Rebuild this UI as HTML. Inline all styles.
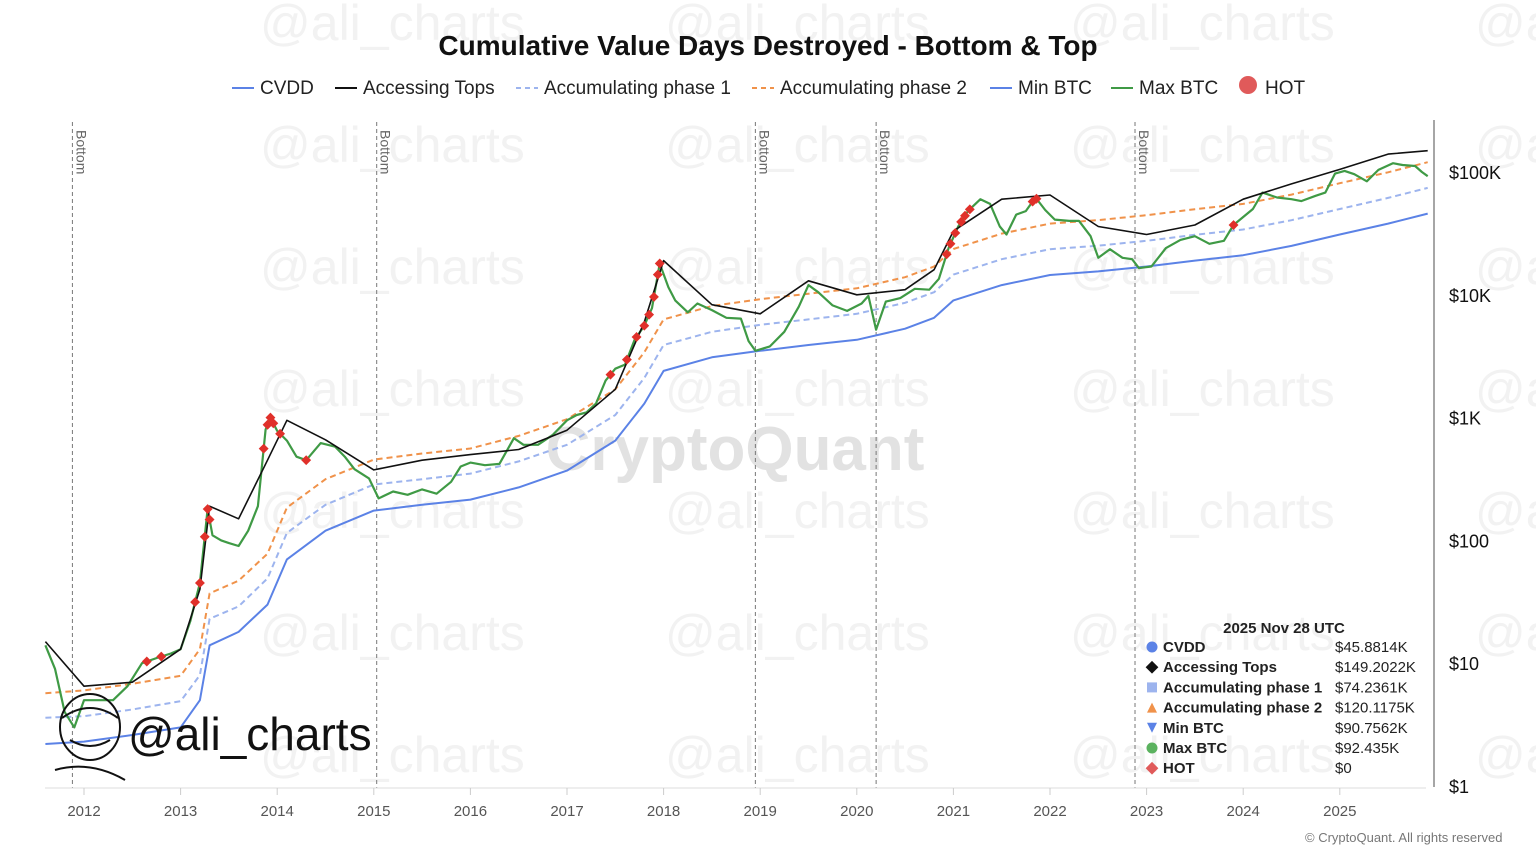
<!DOCTYPE html>
<html><head><meta charset="utf-8">
<style>
body{margin:0;width:1536px;height:864px;background:#fff;overflow:hidden;font-family:"Liberation Sans",Arial,sans-serif}
svg{position:absolute;left:0;top:0}
</style></head>
<body>
<svg id="chart" width="1536" height="864">
<g id="wm"></g>
<text x="735" y="470" font-size="62" font-weight="bold" fill="#cfcfcf" opacity="0.6" text-anchor="middle">CryptoQuant</text>
<text x="768" y="55" font-size="28" font-weight="bold" fill="#111" text-anchor="middle">Cumulative Value Days Destroyed - Bottom &amp; Top</text>
<g id="legend" font-size="19" fill="#222"></g>
<g id="grid"></g>
<g id="plot"></g>
<g id="axes"></g>
<text x="128" y="750" font-size="46" fill="#111">@ali_charts</text>
<g fill="none" stroke="#111" stroke-width="2">
<ellipse cx="90" cy="727" rx="30" ry="33"/><path d="M62 718 q28 -20 56 0 M70 740 q20 12 40 0 M55 770 q35 -10 70 10"/></g>
<g id="tip" font-size="15" font-weight="bold" fill="#222"></g>
<text x="1305" y="842" font-size="13" fill="#777">© CryptoQuant. All rights reserved</text>
</svg>
<script>
const NS='http://www.w3.org/2000/svg';
function el(tag,attrs,parent,text){const e=document.createElementNS(NS,tag);for(const k in attrs)e.setAttribute(k,attrs[k]);if(text!==undefined)e.textContent=text;parent.appendChild(e);return e;}
const xTicks=[2012,2013,2014,2015,2016,2017,2018,2019,2020,2021,2022,2023,2024,2025];
const yTicks=[1,10,100,1000,10000,100000];
const yTickLabels=['$1','$10','$100','$1K','$10K','$100K'];
const bottomDates=[2011.88,2015.03,2018.95,2020.2,2022.88];
const priceT=[2011.6,2011.7,2011.8,2011.9,2012.0,2012.15,2012.3,2012.45,2012.6,2012.75,2012.9,2013.0,2013.1,2013.2,2013.28,2013.33,2013.42,2013.5,2013.6,2013.7,2013.8,2013.88,2013.93,2014.0,2014.1,2014.2,2014.3,2014.45,2014.6,2014.7,2014.8,2014.95,2015.05,2015.2,2015.35,2015.5,2015.65,2015.8,2015.9,2016.0,2016.15,2016.3,2016.45,2016.55,2016.7,2016.85,2017.0,2017.1,2017.2,2017.3,2017.4,2017.5,2017.6,2017.7,2017.8,2017.88,2017.96,2018.05,2018.12,2018.25,2018.35,2018.5,2018.65,2018.8,2018.88,2018.95,2019.1,2019.25,2019.4,2019.5,2019.6,2019.75,2019.9,2020.05,2020.12,2020.2,2020.3,2020.45,2020.6,2020.75,2020.85,2020.95,2021.05,2021.15,2021.28,2021.38,2021.48,2021.55,2021.65,2021.75,2021.85,2021.95,2022.05,2022.2,2022.3,2022.42,2022.5,2022.62,2022.75,2022.85,2022.92,2023.05,2023.2,2023.35,2023.5,2023.65,2023.8,2023.9,2024.0,2024.1,2024.2,2024.35,2024.5,2024.6,2024.75,2024.85,2024.95,2025.05,2025.15,2025.28,2025.4,2025.55,2025.65,2025.78,2025.85,2025.91];
const priceV=[14,9,4,3,5,5,5,6.5,10,11,12,13,22,45,180,110,100,95,90,120,190,800,1000,780,650,480,450,620,580,480,380,320,220,250,235,260,240,300,400,430,410,420,680,600,600,720,950,1050,1100,1300,2000,2500,2700,4300,5600,7800,18000,11500,9000,7200,8500,7500,6500,6400,4200,3500,3800,5000,8000,12000,10500,8200,7400,8500,9800,5200,8800,9400,11200,11000,13500,24000,36000,48000,60000,55000,36000,31000,45000,48000,62000,49000,41000,40000,40000,30000,20000,23500,20000,19500,16500,17000,24000,28000,30000,26000,27500,37000,43000,50000,68000,62000,60000,58000,64000,68000,97000,102000,96000,84000,104000,118000,114000,112000,100000,92435];
const hotT=[2012.65,2012.8,2013.15,2013.2,2013.25,2013.28,2013.3,2013.86,2013.9,2013.93,2013.96,2014.03,2014.3,2017.45,2017.62,2017.72,2017.8,2017.85,2017.9,2017.94,2017.96,2020.93,2020.97,2021.02,2021.08,2021.12,2021.17,2021.82,2021.86,2023.9];
const lineT=[2011.6,2012.0,2012.5,2013.0,2013.2,2013.3,2013.6,2013.9,2014.1,2014.5,2015.0,2015.5,2016.0,2016.5,2017.0,2017.5,2017.8,2018.0,2018.5,2019.0,2019.5,2020.0,2020.5,2020.8,2021.0,2021.5,2022.0,2022.5,2023.0,2023.5,2024.0,2024.5,2025.0,2025.5,2025.91];
const cvdd=[2.2,2.3,2.6,3,5,14,18,30,70,120,175,195,215,270,370,650,1300,2400,3100,3500,3900,4300,5300,6500,9000,12000,14500,15500,17000,19000,21000,25000,31000,38000,45881];
const acc1=[3.6,3.7,4.2,4.9,8,23,29,49,115,195,285,315,350,440,600,1050,2100,3900,5000,5700,6300,7000,8600,10500,14600,19500,23500,25100,27500,30800,34000,40500,50000,61500,74236];
const acc2=[5.7,6,6.8,7.9,13,37,47,78,185,315,455,510,560,710,970,1700,3400,6300,8100,9200,10200,11300,13900,17000,23600,31500,38000,40600,44500,49800,55000,65500,81000,99500,120118];
const tops=[15,6.5,7,13,40,190,150,450,950,660,375,450,500,550,790,1700,6000,19000,8300,7000,13000,10000,11000,16000,33000,60000,65000,36000,31000,37000,60000,80000,105000,140000,149202];
const X0=84,PXY=96.6,Y0=786,PXD=122.8;
const xs=t=>X0+(t-2012)*PXY, ys=v=>Y0-Math.log10(v)*PXD;
const grid=document.getElementById('grid'),plot=document.getElementById('plot'),axes=document.getElementById('axes');
const wm=document.getElementById('wm');
for(let r=0;r<7;r++)for(let c=0;c<4;c++){
 const w=el('text',{x:260+c*405,y:40+r*122,'font-size':50,fill:'#f2f2f2'},wm,'@ali_charts');
 
 
}
bottomDates.forEach(d=>{
 const l=el('line',{x1:xs(d),x2:xs(d),y1:122,y2:788,stroke:'#777','stroke-dasharray':'4,3','stroke-width':1},grid);
 
 
 const t=el('text',{transform:`translate(${xs(d)+4},130) rotate(90)`,'font-size':14,fill:'#666'},grid,'Bottom');
 
 
});
function path(T,V,color,w,dash,name){
 const d=T.map((t,i)=>(i?'L':'M')+xs(t).toFixed(1)+','+ys(V[i]).toFixed(1)).join('');
 const p=el('path',{d:d,fill:'none',stroke:color,'stroke-width':w,'stroke-linejoin':'round'},plot);
 if(dash)p.setAttribute('stroke-dasharray',dash);
 
 
}
path(lineT,cvdd,'#5b82e6',2,null,'cvdd-line');
path(lineT,acc1,'#9db4ee',2,'6,4','accumulating-phase-1-line');
path(lineT,acc2,'#f0924a',2,'6,4','accumulating-phase-2-line');
path(priceT,priceV,'#3f9a45',2.2,null,'max-btc-line');
path(lineT,tops,'#111',1.6,null,'accessing-tops-line');
function priceAt(t){for(let i=1;i<priceT.length;i++){if(t<=priceT[i]){const f=(t-priceT[i-1])/(priceT[i]-priceT[i-1]);return Math.pow(10,Math.log10(priceV[i-1])+f*(Math.log10(priceV[i])-Math.log10(priceV[i-1])));}}return priceV[priceV.length-1];}
hotT.forEach(t=>{
 const x=xs(t),y=ys(priceAt(t));
 const r=el('rect',{x:x-3.5,y:y-3.5,width:7,height:7,fill:'#e0302a',transform:`rotate(45 ${x} ${y})`},plot);
 
 
});
const xa=el('line',{x1:45,x2:1426,y1:788,y2:788,stroke:'#ddd'},axes);


const ya=el('line',{x1:1434,x2:1434,y1:120,y2:787,stroke:'#888','stroke-width':1.5},axes);


xTicks.forEach(t=>{
 const tk=el('line',{x1:xs(t),x2:xs(t),y1:788,y2:795,stroke:'#ccc'},axes);
 
 
 const lb=el('text',{x:xs(t),y:816,'font-size':15,fill:'#555','text-anchor':'middle'},axes,String(t));
 
 
});
yTicks.forEach((v,i)=>{
 const lb=el('text',{x:1449,y:ys(v)+7,'font-size':18,fill:'#111'},axes,yTickLabels[i]);
 
 
});
const lg=document.getElementById('legend');
const legendItems=[['CVDD','#5b82e6',null,232],['Accessing Tops','#111',null,335],['Accumulating phase 1','#9db4ee','5,4',516],['Accumulating phase 2','#f0924a','5,4',752],['Min BTC','#5b82e6',null,990],['Max BTC','#3f9a45',null,1111]];
legendItems.forEach(it=>{
 const g=el('g',{},lg);
 
 
 const l=el('line',{x1:it[3],x2:it[3]+22,y1:88,y2:88,stroke:it[1],'stroke-width':2},g);
 if(it[2])l.setAttribute('stroke-dasharray',it[2]);
 el('text',{x:it[3]+28,y:94},g,it[0]);
});
const hg=el('g',{},lg);


el('circle',{cx:1248,cy:85,r:9,fill:'#e05a5a'},hg);
el('text',{x:1265,y:94},hg,'HOT');
const tip=document.getElementById('tip');
el('text',{x:1284,y:633,'text-anchor':'middle'},tip,'2025 Nov 28 UTC');
const rows=[['CVDD','$45.8814K','c','#5b82e6'],['Accessing Tops','$149.2022K','d','#111'],['Accumulating phase 1','$74.2361K','s','#9db4ee'],['Accumulating phase 2','$120.1175K','t','#f0924a'],['Min BTC','$90.7562K','v','#5b82e6'],['Max BTC','$92.435K','c','#5bb25f'],['HOT','$0','d','#e05a5a']];
rows.forEach((r,i)=>{
 const y=652+i*20.2;
 const g=el('g',{},tip);
 
 
 const cx=1152;
 if(r[2]=='c')el('circle',{cx:cx,cy:y-5,r:5.5,fill:r[3]},g);
 if(r[2]=='d')el('rect',{x:cx-4.5,y:y-9.5,width:9,height:9,fill:r[3],transform:`rotate(45 ${cx} ${y-5})`},g);
 if(r[2]=='s')el('rect',{x:cx-5,y:y-10,width:10,height:10,fill:r[3]},g);
 if(r[2]=='t')el('path',{d:`M${cx-5} ${y} L${cx+5} ${y} L${cx} ${y-10}Z`,fill:r[3]},g);
 if(r[2]=='v')el('path',{d:`M${cx-5} ${y-10} L${cx+5} ${y-10} L${cx} ${y}Z`,fill:r[3]},g);
 el('text',{x:1163,y:y},g,r[0]);
 el('text',{x:1335,y:y,'font-weight':'normal'},g,r[1]);
});
</script>
</body></html>
